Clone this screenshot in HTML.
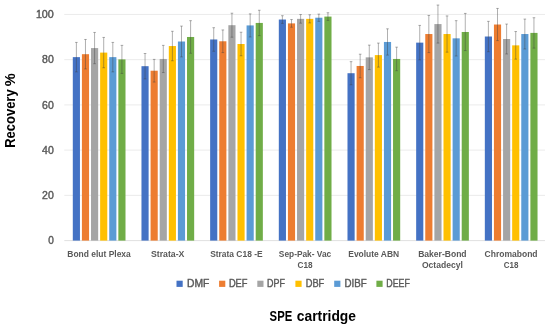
<!DOCTYPE html>
<html lang="en"><head><meta charset="utf-8"><title>Recovery % by SPE cartridge</title>
<style>html,body{margin:0;padding:0;background:#fff}body{width:550px;height:329px;overflow:hidden}svg{display:block}text{font-family:"Liberation Sans",sans-serif}.ax{font-size:10.1px;fill:#595959}.cat{font-size:8.8px;font-weight:bold;fill:#595959}.ttl{font-size:14.4px;font-weight:bold;fill:#000}.eb{stroke:#404040;stroke-opacity:0.55;stroke-width:0.75;fill:none}.gl{stroke:#e6e6e6;stroke-width:0.8}.gl0{stroke:#dcdcdc;stroke-width:0.9}.lg{font-size:10.1px;fill:#595959}.ax,.lg{stroke:#595959;stroke-width:0.4}</style></head><body>
<svg width="550" height="329" viewBox="0 0 550 329">
<rect width="550" height="329" fill="#fff"/>
<line class="gl" x1="64.3" y1="14.45" x2="545.0" y2="14.45"/>
<line class="gl" x1="64.3" y1="59.68" x2="545.0" y2="59.68"/>
<line class="gl" x1="64.3" y1="104.91" x2="545.0" y2="104.91"/>
<line class="gl" x1="64.3" y1="150.14" x2="545.0" y2="150.14"/>
<line class="gl" x1="64.3" y1="195.37" x2="545.0" y2="195.37"/>
<line class="gl0" x1="64.3" y1="240.60" x2="545.0" y2="240.60"/>
<rect x="72.80" y="57.13" width="7.15" height="183.47" fill="#4472C4"/>
<rect x="81.91" y="54.19" width="7.15" height="186.41" fill="#ED7D31"/>
<rect x="91.02" y="48.07" width="7.15" height="192.53" fill="#A5A5A5"/>
<rect x="100.13" y="52.60" width="7.15" height="188.00" fill="#FFC000"/>
<rect x="109.24" y="57.13" width="7.15" height="183.47" fill="#5B9BD5"/>
<rect x="118.35" y="59.40" width="7.15" height="181.20" fill="#70AD47"/>
<rect x="141.47" y="66.19" width="7.15" height="174.41" fill="#4472C4"/>
<rect x="150.58" y="70.72" width="7.15" height="169.88" fill="#ED7D31"/>
<rect x="159.69" y="58.95" width="7.15" height="181.65" fill="#A5A5A5"/>
<rect x="168.80" y="46.04" width="7.15" height="194.56" fill="#FFC000"/>
<rect x="177.91" y="41.51" width="7.15" height="199.09" fill="#5B9BD5"/>
<rect x="187.02" y="36.98" width="7.15" height="203.62" fill="#70AD47"/>
<rect x="210.14" y="39.47" width="7.15" height="201.13" fill="#4472C4"/>
<rect x="219.25" y="41.28" width="7.15" height="199.32" fill="#ED7D31"/>
<rect x="228.36" y="25.20" width="7.15" height="215.40" fill="#A5A5A5"/>
<rect x="237.47" y="44.00" width="7.15" height="196.60" fill="#FFC000"/>
<rect x="246.58" y="25.42" width="7.15" height="215.18" fill="#5B9BD5"/>
<rect x="255.69" y="22.93" width="7.15" height="217.67" fill="#70AD47"/>
<rect x="278.81" y="19.54" width="7.15" height="221.06" fill="#4472C4"/>
<rect x="287.92" y="23.39" width="7.15" height="217.21" fill="#ED7D31"/>
<rect x="297.03" y="18.86" width="7.15" height="221.74" fill="#A5A5A5"/>
<rect x="306.14" y="18.86" width="7.15" height="221.74" fill="#FFC000"/>
<rect x="315.25" y="17.72" width="7.15" height="222.88" fill="#5B9BD5"/>
<rect x="324.36" y="16.59" width="7.15" height="224.01" fill="#70AD47"/>
<rect x="347.49" y="73.22" width="7.15" height="167.38" fill="#4472C4"/>
<rect x="356.60" y="65.97" width="7.15" height="174.63" fill="#ED7D31"/>
<rect x="365.71" y="57.36" width="7.15" height="183.24" fill="#A5A5A5"/>
<rect x="374.82" y="55.10" width="7.15" height="185.50" fill="#FFC000"/>
<rect x="383.93" y="41.96" width="7.15" height="198.64" fill="#5B9BD5"/>
<rect x="393.04" y="58.95" width="7.15" height="181.65" fill="#70AD47"/>
<rect x="416.16" y="42.64" width="7.15" height="197.96" fill="#4472C4"/>
<rect x="425.27" y="34.03" width="7.15" height="206.57" fill="#ED7D31"/>
<rect x="434.38" y="24.07" width="7.15" height="216.53" fill="#A5A5A5"/>
<rect x="443.49" y="34.03" width="7.15" height="206.57" fill="#FFC000"/>
<rect x="452.60" y="38.34" width="7.15" height="202.26" fill="#5B9BD5"/>
<rect x="461.71" y="31.99" width="7.15" height="208.61" fill="#70AD47"/>
<rect x="484.83" y="36.52" width="7.15" height="204.08" fill="#4472C4"/>
<rect x="493.94" y="24.52" width="7.15" height="216.08" fill="#ED7D31"/>
<rect x="503.05" y="39.01" width="7.15" height="201.59" fill="#A5A5A5"/>
<rect x="512.16" y="45.36" width="7.15" height="195.24" fill="#FFC000"/>
<rect x="521.27" y="34.03" width="7.15" height="206.57" fill="#5B9BD5"/>
<rect x="530.38" y="32.90" width="7.15" height="207.70" fill="#70AD47"/>
<path class="eb" d="M76.38 42.41V71.86M75.08 42.41H77.67M75.08 71.86H77.67"/>
<path class="eb" d="M85.48 39.47V68.91M84.19 39.47H86.78M84.19 68.91H86.78"/>
<path class="eb" d="M94.59 32.45V63.70M93.30 32.45H95.89M93.30 63.70H95.89"/>
<path class="eb" d="M103.70 37.43V67.78M102.41 37.43H105.00M102.41 67.78H105.00"/>
<path class="eb" d="M112.81 42.41V71.86M111.52 42.41H114.11M111.52 71.86H114.11"/>
<path class="eb" d="M121.92 45.36V73.44M120.62 45.36H123.22M120.62 73.44H123.22"/>
<path class="eb" d="M145.05 53.51V78.88M143.75 53.51H146.35M143.75 78.88H146.35"/>
<path class="eb" d="M154.16 59.40V82.05M152.86 59.40H155.46M152.86 82.05H155.46"/>
<path class="eb" d="M163.27 45.36V72.54M161.97 45.36H164.57M161.97 72.54H164.57"/>
<path class="eb" d="M172.38 31.31V60.76M171.08 31.31H173.68M171.08 60.76H173.68"/>
<path class="eb" d="M181.49 26.10V56.91M180.19 26.10H182.79M180.19 56.91H182.79"/>
<path class="eb" d="M190.60 20.67V53.28M189.30 20.67H191.90M189.30 53.28H191.90"/>
<path class="eb" d="M213.72 27.69V51.25M212.42 27.69H215.02M212.42 51.25H215.02"/>
<path class="eb" d="M222.83 29.95V52.60M221.53 29.95H224.13M221.53 52.60H224.13"/>
<path class="eb" d="M231.94 13.19V37.20M230.64 13.19H233.24M230.64 37.20H233.24"/>
<path class="eb" d="M241.05 32.22V55.78M239.75 32.22H242.35M239.75 55.78H242.35"/>
<path class="eb" d="M250.16 13.87V36.98M248.86 13.87H251.46M248.86 36.98H251.46"/>
<path class="eb" d="M259.27 10.25V35.62M257.97 10.25H260.57M257.97 35.62H260.57"/>
<path class="eb" d="M282.39 15.69V23.39M281.09 15.69H283.69M281.09 23.39H283.69"/>
<path class="eb" d="M291.50 19.54V27.24M290.20 19.54H292.80M290.20 27.24H292.80"/>
<path class="eb" d="M300.61 14.55V23.16M299.31 14.55H301.91M299.31 23.16H301.91"/>
<path class="eb" d="M309.72 14.78V22.93M308.42 14.78H311.02M308.42 22.93H311.02"/>
<path class="eb" d="M318.83 14.10V21.35M317.53 14.10H320.13M317.53 21.35H320.13"/>
<path class="eb" d="M327.94 12.74V20.44M326.64 12.74H329.24M326.64 20.44H329.24"/>
<path class="eb" d="M351.06 61.66V84.77M349.76 61.66H352.36M349.76 84.77H352.36"/>
<path class="eb" d="M360.17 54.19V77.75M358.87 54.19H361.47M358.87 77.75H361.47"/>
<path class="eb" d="M369.28 45.13V69.59M367.98 45.13H370.58M367.98 69.59H370.58"/>
<path class="eb" d="M378.39 43.09V67.10M377.09 43.09H379.69M377.09 67.10H379.69"/>
<path class="eb" d="M387.50 28.82V55.10M386.20 28.82H388.80M386.20 55.10H388.80"/>
<path class="eb" d="M396.61 47.17V70.72M395.31 47.17H397.91M395.31 70.72H397.91"/>
<path class="eb" d="M419.73 25.42V59.85M418.43 25.42H421.03M418.43 59.85H421.03"/>
<path class="eb" d="M428.84 15.46V52.60M427.54 15.46H430.14M427.54 52.60H430.14"/>
<path class="eb" d="M437.95 5.04V43.09M436.65 5.04H439.25M436.65 43.09H439.25"/>
<path class="eb" d="M447.06 15.91V52.15M445.76 15.91H448.36M445.76 52.15H448.36"/>
<path class="eb" d="M456.17 20.67V56.00M454.87 20.67H457.47M454.87 56.00H457.47"/>
<path class="eb" d="M465.28 13.42V50.57M463.98 13.42H466.58M463.98 50.57H466.58"/>
<path class="eb" d="M488.40 21.35V51.70M487.10 21.35H489.70M487.10 51.70H489.70"/>
<path class="eb" d="M497.51 8.44V40.60M496.21 8.44H498.81M496.21 40.60H498.81"/>
<path class="eb" d="M506.62 24.07V53.96M505.32 24.07H507.92M505.32 53.96H507.92"/>
<path class="eb" d="M515.73 31.54V59.17M514.43 31.54H517.03M514.43 59.17H517.03"/>
<path class="eb" d="M524.84 19.08V48.98M523.54 19.08H526.14M523.54 48.98H526.14"/>
<path class="eb" d="M533.95 17.72V48.07M532.65 17.72H535.25M532.65 48.07H535.25"/>
<text class="ax" x="53.8" y="18.05" text-anchor="end" textLength="17.9" lengthAdjust="spacingAndGlyphs">100</text>
<text class="ax" x="53.8" y="63.28" text-anchor="end" textLength="11.7" lengthAdjust="spacingAndGlyphs">80</text>
<text class="ax" x="53.8" y="108.51" text-anchor="end" textLength="11.7" lengthAdjust="spacingAndGlyphs">60</text>
<text class="ax" x="53.8" y="153.74" text-anchor="end" textLength="11.7" lengthAdjust="spacingAndGlyphs">40</text>
<text class="ax" x="53.8" y="198.97" text-anchor="end" textLength="11.7" lengthAdjust="spacingAndGlyphs">20</text>
<text class="ax" x="53.8" y="244.20" text-anchor="end" textLength="5.6" lengthAdjust="spacingAndGlyphs">0</text>
<text class="cat" x="99.04" y="256.75" text-anchor="middle" textLength="63.5" lengthAdjust="spacingAndGlyphs">Bond elut Plexa</text>
<text class="cat" x="167.71" y="256.75" text-anchor="middle" textLength="33.5" lengthAdjust="spacingAndGlyphs">Strata-X</text>
<text class="cat" x="236.38" y="256.75" text-anchor="middle" textLength="52.4" lengthAdjust="spacingAndGlyphs">Strata C18 -E</text>
<text class="cat" x="305.05" y="256.75" text-anchor="middle" textLength="52.4" lengthAdjust="spacingAndGlyphs">Sep-Pak- Vac</text>
<text class="cat" x="305.05" y="268.35" text-anchor="middle" textLength="15.1" lengthAdjust="spacingAndGlyphs">C18</text>
<text class="cat" x="373.72" y="256.75" text-anchor="middle" textLength="50.9" lengthAdjust="spacingAndGlyphs">Evolute ABN</text>
<text class="cat" x="442.39" y="256.75" text-anchor="middle" textLength="48.4" lengthAdjust="spacingAndGlyphs">Baker-Bond</text>
<text class="cat" x="442.39" y="268.35" text-anchor="middle" textLength="40.9" lengthAdjust="spacingAndGlyphs">Octadecyl</text>
<text class="cat" x="511.06" y="256.75" text-anchor="middle" textLength="53.0" lengthAdjust="spacingAndGlyphs">Chromabond</text>
<text class="cat" x="511.06" y="268.35" text-anchor="middle" textLength="14.7" lengthAdjust="spacingAndGlyphs">C18</text>
<rect x="176.5" y="280.7" width="6.2" height="6.2" fill="#4472C4"/>
<text class="lg" x="187.0" y="287.4" textLength="22.3" lengthAdjust="spacingAndGlyphs">DMF</text>
<rect x="219.1" y="280.7" width="6.2" height="6.2" fill="#ED7D31"/>
<text class="lg" x="228.9" y="287.4" textLength="18.6" lengthAdjust="spacingAndGlyphs">DEF</text>
<rect x="257.3" y="280.7" width="6.2" height="6.2" fill="#A5A5A5"/>
<text class="lg" x="267.1" y="287.4" textLength="17.9" lengthAdjust="spacingAndGlyphs">DPF</text>
<rect x="295.4" y="280.7" width="6.2" height="6.2" fill="#FFC000"/>
<text class="lg" x="305.7" y="287.4" textLength="18.6" lengthAdjust="spacingAndGlyphs">DBF</text>
<rect x="334.2" y="280.7" width="6.2" height="6.2" fill="#5B9BD5"/>
<text class="lg" x="344.4" y="287.4" textLength="22.2" lengthAdjust="spacingAndGlyphs">DIBF</text>
<rect x="376.4" y="280.7" width="6.2" height="6.2" fill="#70AD47"/>
<text class="lg" x="386.3" y="287.4" textLength="23.6" lengthAdjust="spacingAndGlyphs">DEEF</text>
<text class="ttl" x="269.6" y="321.4" textLength="22.6" lengthAdjust="spacingAndGlyphs">SPE</text>
<text class="ttl" x="296.8" y="321.4" textLength="59.2" lengthAdjust="spacingAndGlyphs">cartridge</text>
<text class="ttl" style="font-size:15.1px" transform="translate(15.3 147.8) rotate(-90)" textLength="58.4" lengthAdjust="spacingAndGlyphs">Recovery</text>
<text class="ttl" style="font-size:15.1px" transform="translate(15.3 86.3) rotate(-90)" textLength="12.9" lengthAdjust="spacingAndGlyphs">%</text>
</svg></body></html>
